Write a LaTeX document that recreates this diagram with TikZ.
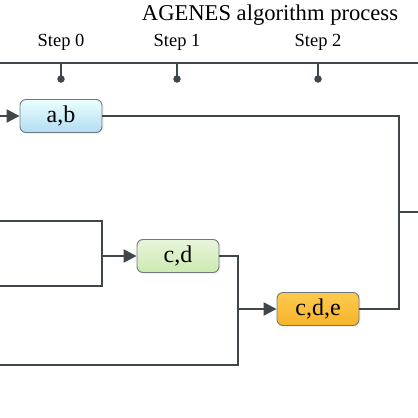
\documentclass[tikz,border=0pt]{standalone}
\usepackage{fontspec}
\setmainfont{Liberation Serif}
\usetikzlibrary{arrows.meta,shadows}
\definecolor{ln}{HTML}{3F474B}
\definecolor{bd}{HTML}{6E7A7E}
\tikzset{
  wire/.style={draw=ln, line width=2.3pt},
  arr/.style={wire, -{Triangle[length=13pt,width=13pt]}},
  box/.style={draw=bd, line width=0.9pt, rounded corners=6pt, minimum width=82pt, minimum height=33pt, inner sep=0pt, font=\fontsize{24}{26}\selectfont,
    drop shadow={opacity=0.12, shadow xshift=1.5pt, shadow yshift=-1.5pt}},
  lbl/.style={font=\fontsize{18.5}{20}\selectfont, anchor=base},
  dot/.style={circle, fill=ln, inner sep=0pt, minimum size=7.5pt},
}
\begin{document}
\begin{tikzpicture}[x=1pt,y=-1pt]
\useasboundingbox (0,0) rectangle (418,418);
\fill[white] (0,0) rectangle (418,418);
\node[font=\fontsize{22.6}{24}\selectfont, anchor=base] (title) at (270,20) {AGENES algorithm process};
\node[lbl] (s0) at (61,46) {Step 0};
\node[lbl] (s1) at (177,46) {Step 1};
\node[lbl] (s2) at (318,46) {Step 2};
\coordinate (axl) at (0,63);
\coordinate (axr) at (418,63);
\draw[wire] (axl) -- (axr);
\node[dot] (d0) at (61,79) {};
\node[dot] (d1) at (177,79) {};
\node[dot] (d2) at (318,79) {};
\draw[wire] (61,63) -- (d0.center);
\draw[wire] (177,63) -- (d1.center);
\draw[wire] (318,63) -- (d2.center);

\node[box, top color=cyan!8!white, bottom color={rgb,255:red,178;green,220;blue,242}] (ab) at (61,116) {a,b};
\node[box, top color={rgb,255:red,232;green,245;blue,218}, bottom color={rgb,255:red,205;green,233;blue,178}] (cd) at (178,256) {c,d};
\node[box, top color={rgb,255:red,253;green,202;blue,80}, bottom color={rgb,255:red,246;green,180;blue,40}] (cde) at (318,309) {c,d,e};

\coordinate (inab) at (0,116);
\draw[arr] (inab) -- (ab);

\coordinate (bt) at (0,221);
\coordinate (bb) at (0,286);
\coordinate (bm) at (102,256);
\draw[wire] (bt) -- (102,221) -- (102,286) -- (bb);
\draw[arr] (bm) -- (cd);

\coordinate (j2) at (238,309);
\coordinate (low) at (0,365);
\draw[wire] (cd.east) -- (238,256) -- (238,365) -- (low);
\draw[arr] (j2) -- (cde);

\coordinate (out) at (418,212);
\draw[wire] (ab.east) -- (399,116) -- (399,309) -- (cde.east);
\draw[wire] (399,212) -- (out);
\end{tikzpicture}
\end{document}
